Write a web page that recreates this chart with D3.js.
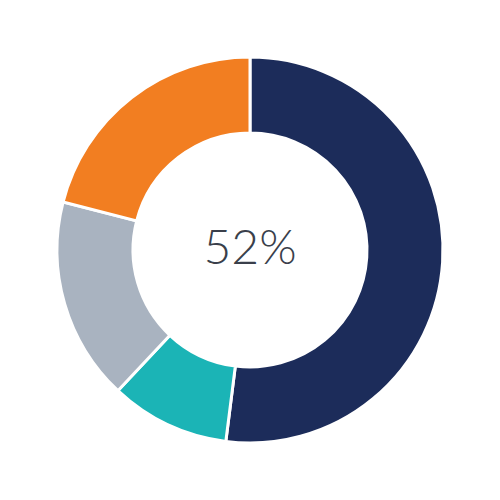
<!DOCTYPE html>
<html>
<head>
<meta charset="utf-8">
<script src="https://cdn.jsdelivr.net/npm/d3@7"></script>
<style>
  html, body { margin: 0; padding: 0; background: #fff; }
</style>
</head>
<body>
<script>
var categories = ["A", "B", "C", "D"];
var values = [52, 10, 17, 21];
var colors = ["#1c2c5a", "#1bb4b6", "#a9b3c0", "#f27e21"];
var centerLabel = "52%";

var width = 500, height = 500,
    outerR = 193, innerR = 117;

var svg = d3.select("body").append("svg")
    .attr("width", width)
    .attr("height", height)
  .append("g")
    .attr("transform", "translate(" + 250 + "," + 250 + ")");

var pie = d3.pie().sort(null).value(function(d){ return d; });
var arc = d3.arc().innerRadius(innerR).outerRadius(outerR);

svg.selectAll("path")
    .data(pie(values))
  .enter().append("path")
    .attr("d", arc)
    .attr("fill", function(d, i){ return colors[i]; })
    .attr("stroke", "#fff")
    .attr("stroke-width", 3);

// center value
svg.append("text")
    .attr("text-anchor", "middle")
    .attr("y", 14)
    .attr("font-family", "Lato, sans-serif")
    .attr("font-weight", 300)
    .attr("font-size", 48)
    .attr("fill", "#3a3f4b")
    .text(centerLabel);
</script>
</body>
</html>
